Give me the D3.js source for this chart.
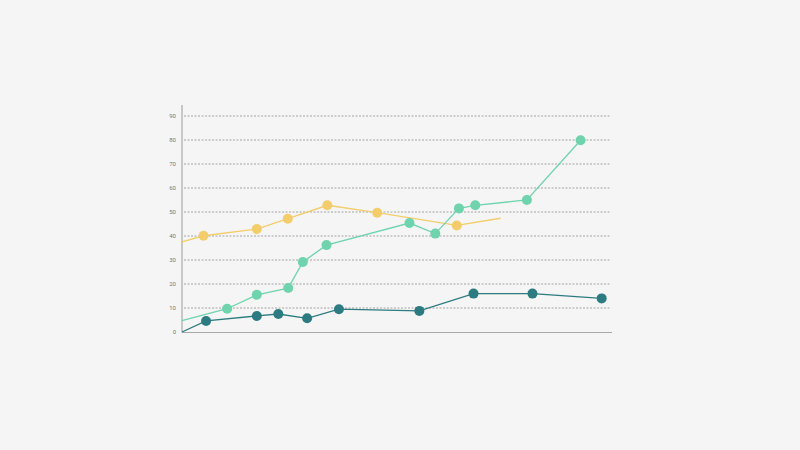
<!DOCTYPE html>
<html><head><meta charset="utf-8">
<script src="https://cdn.jsdelivr.net/npm/d3@7"></script>
<style>html,body{margin:0;padding:0;background:#f5f5f5;}svg{display:block;}</style>
</head><body>
<svg id="c" width="800" height="450"></svg>
<script>
// Data (x on a 0–100 horizontal scale, y values)
const yTicks = [0,10,20,30,40,50,60,70,80,90];
const darkX = [0, 5.6, 17.4, 22.4, 29.1, 36.5, 55.2, 67.8, 81.5, 97.6];
const darkY = [0, 4.6, 6.7, 7.5, 5.7, 9.5, 8.8, 16.0, 16.0, 14.0];
const darkMarker = [false,true,true,true,true,true,true,true,true,true];
const greenX = [0, 10.5, 17.4, 24.7, 28.1, 33.6, 52.9, 58.9, 64.4, 68.2, 80.2, 92.7];
const greenY = [4.7, 9.7, 15.5, 18.3, 29.2, 36.2, 45.4, 41.0, 51.5, 52.8, 55.0, 79.9];
const greenMarker = [false,true,true,true,true,true,true,true,true,true,true,true];
const yellowX = [0, 5.0, 17.4, 24.6, 33.8, 45.4, 63.9, 74.1];
const yellowY = [37.6, 40.1, 42.9, 47.2, 52.8, 49.7, 44.4, 47.4];
const yellowMarker = [false,true,true,true,true,true,true,false];

const svg = d3.select("#c");
svg.append("rect").attr("width",800).attr("height",450).attr("fill","#f5f5f5");
const x = d3.scaleLinear().domain([0,100]).range([182,612]);
const y = d3.scaleLinear().domain([0,90]).range([332,116]);

// gridlines
svg.append("g").selectAll("line").data(yTicks.filter(d=>d>0)).join("line")
  .attr("x1",184).attr("x2",610).attr("y1",d=>y(d)).attr("y2",d=>y(d))
  .attr("stroke","#8f8f8f").attr("stroke-width",0.8).attr("stroke-dasharray","2,1.5");

// y axis
const ya = svg.append("g").attr("transform","translate(182,0)")
  .call(d3.axisLeft(y).tickValues(yTicks).tickSize(0).tickPadding(6));
ya.select(".domain").remove();
ya.selectAll("text").attr("font-family","Roboto, sans-serif").attr("font-size",6).attr("fill","#777");
svg.append("line").attr("x1",182).attr("x2",182).attr("y1",105).attr("y2",332.5)
  .attr("stroke","#a8a8a8").attr("stroke-width",1.2);
svg.append("line").attr("x1",182).attr("x2",612).attr("y1",332.5).attr("y2",332.5)
  .attr("stroke","#a8a8a8").attr("stroke-width",1.2);

function series(xs, ys, marks, color){
  const pts = xs.map((d,i)=>({x:d,y:ys[i],m:marks[i]}));
  const line = d3.line().x(d=>x(d.x)).y(d=>y(d.y));
  svg.append("path").datum(pts).attr("d",line).attr("fill","none")
    .attr("stroke",color).attr("stroke-width",1.3);
  svg.append("g").selectAll("circle").data(pts.filter(d=>d.m)).join("circle")
    .attr("cx",d=>x(d.x)).attr("cy",d=>y(d.y)).attr("r",5).attr("fill",color);
}
series(yellowX, yellowY, yellowMarker, "#f3cd6b");
series(greenX, greenY, greenMarker, "#6fd3ae");
series(darkX, darkY, darkMarker, "#2b7b80");
</script>
</body></html>
